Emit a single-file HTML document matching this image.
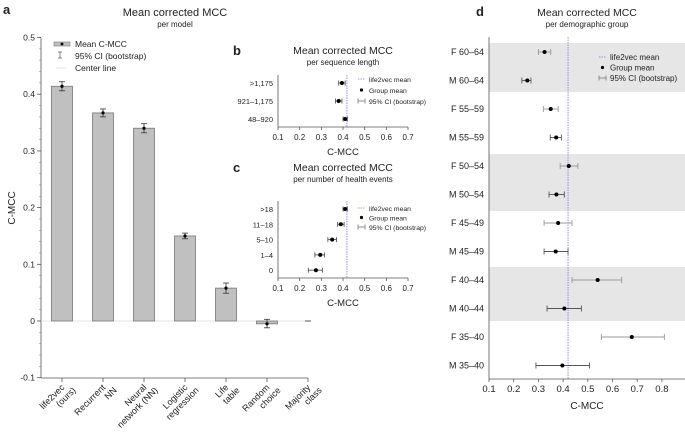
<!DOCTYPE html>
<html><head><meta charset="utf-8">
<style>
body{margin:0;background:#fff;font-family:"Liberation Sans",sans-serif;}
svg{display:block}
text{font-family:"Liberation Sans",sans-serif;fill:#222}
</style></head>
<body>
<svg id="fig" width="685" height="435" viewBox="0 0 685 435"></svg>
<script>
// Panel a data
const aModels = ["life2vec|(ours)","Recurrent|NN","Neural|network (NN)","Logistic|regression","Life|table","Random|choice","Majority|class"];
const aMeans = [0.414,0.367,0.340,0.150,0.058,-0.005,0.0];
const aLo = [0.406,0.360,0.332,0.145,0.049,-0.012,0.0];
const aHi = [0.422,0.374,0.348,0.155,0.067,0.003,0.0];
const aTicks = [-0.1,0,0.1,0.2,0.3,0.4,0.5];
// Panel b data
const bCats = [">1,175","921–1,175","48–920"];
const bMeans = [0.395,0.380,0.410];
const bLo = [0.380,0.365,0.400];
const bHi = [0.410,0.395,0.420];
// Panel c data
const cCats = [">18","11–18","5–10","1–4","0"];
const cMeans = [0.410,0.390,0.350,0.295,0.275];
const cLo = [0.400,0.375,0.330,0.270,0.240];
const cHi = [0.420,0.405,0.370,0.315,0.305];
const bcTicks = [0.1,0.2,0.3,0.4,0.5,0.6,0.7];
const l2vMean = 0.418;
// Panel d data
const dCats = ["F 60–64","M 60–64","F 55–59","M 55–59","F 50–54","M 50–54","F 45–49","M 45–49","F 40–44","M 40–44","F 35–40","M 35–40"];
const dMeans = [0.325,0.255,0.350,0.372,0.423,0.373,0.380,0.370,0.540,0.405,0.678,0.397];
const dLo = [0.300,0.233,0.320,0.348,0.388,0.343,0.323,0.323,0.436,0.335,0.555,0.290];
const dHi = [0.350,0.270,0.380,0.393,0.460,0.405,0.436,0.420,0.637,0.474,0.810,0.507];
const dTicks = [0.1,0.2,0.3,0.4,0.5,0.6,0.7,0.8];
const dMean = 0.42;

const svg=document.getElementById('fig');
const NS="http://www.w3.org/2000/svg";
function el(tag,attrs,parent,txt){const e=document.createElementNS(NS,tag);for(const k in attrs)e.setAttribute(k,attrs[k]);if(txt!==undefined)e.textContent=txt;(parent||svg).appendChild(e);return e;}
function grp(name){const g=el('g',{});return g;}
function T(g,x,y,s,size,anchor,extra){const t=el('text',Object.assign({x:x,y:y,'font-size':size,'text-anchor':anchor||'start'},extra||{}),g,s);return t;}

// ===== Panel a =====
const ga=grp('panel-a');
const ay=v=>321-v*567;
const aX0=41,aX1=308;
const ax=i=>62+i*41;
T(ga,3,14,'a',13,'start',{'font-weight':'bold'});
T(ga,175,16,'Mean corrected MCC',11,'middle');
T(ga,175,27,'per model',8,'middle');
const yt=T(ga,0,0,'C-MCC',10,'middle',{transform:'translate(15,208) rotate(-90)'});

el('line',{x1:aX0,y1:38,x2:aX0,y2:378,stroke:'#555','stroke-width':0.8},ga);
for(let v=-0.1;v<=0.5001;v+=0.02){el('line',{x1:aX0-2,y1:ay(v),x2:aX0,y2:ay(v),stroke:'#777','stroke-width':0.5},ga);}
aTicks.forEach(v=>{el('line',{x1:aX0-4,y1:ay(v),x2:aX0,y2:ay(v),stroke:'#555','stroke-width':0.8},ga);
 const t=T(ga,aX0-6,ay(v)+3,v===0?'0':String(v),8.5,'end');});
el('line',{x1:aX0,y1:378,x2:aX1,y2:378,stroke:'#555','stroke-width':0.8},ga);
el('line',{x1:aX0,y1:ay(0),x2:aX1,y2:ay(0),stroke:'#ddd','stroke-width':0.8},ga);
aMeans.forEach((v,i)=>{
 const x=ax(i);
 el('line',{x1:x,y1:378,x2:x,y2:382,stroke:'#555','stroke-width':0.8},ga);
 if(i<6){
  const r=el('rect',{x:x-10.5,y:Math.min(ay(v),ay(0)),width:21,height:Math.max(Math.abs(ay(v)-ay(0)),1),fill:'#c0c0c0',stroke:'#777','stroke-width':0.8},ga);
  
  el('line',{x1:x,y1:ay(aLo[i]),x2:x,y2:ay(aHi[i]),stroke:'#333','stroke-width':0.8},ga);
  el('line',{x1:x-3,y1:ay(aLo[i]),x2:x+3,y2:ay(aLo[i]),stroke:'#333','stroke-width':0.8},ga);
  el('line',{x1:x-3,y1:ay(aHi[i]),x2:x+3,y2:ay(aHi[i]),stroke:'#333','stroke-width':0.8},ga);
  el('circle',{cx:x,cy:ay(v),r:1.6,fill:'#000'},ga);
 } else {
  el('line',{x1:x-3,y1:ay(v),x2:x+3,y2:ay(v),stroke:'#555','stroke-width':1},ga);
 }
 const parts=aModels[i].split('|');
 const t=el('text',{'font-size':9,'text-anchor':'end',transform:`translate(${x+3},${388}) rotate(-45)`},ga);
 
 el('tspan',{x:0,dy:0},t,parts[0]);
 el('tspan',{x:6,dy:10},t,parts[1]);
});
// legend a
const la=grp('legend-a');ga.appendChild(la);
el('rect',{x:54,y:42,width:16,height:4,fill:'#c0c0c0',stroke:'#777','stroke-width':0.6},la);
el('circle',{cx:62,cy:44,r:1.4,fill:'#000'},la);
T(la,75,47,'Mean C-MCC',8.5);
el('line',{x1:60,y1:52,x2:60,y2:58,stroke:'#555','stroke-width':0.7},la);
el('line',{x1:58,y1:52,x2:62,y2:52,stroke:'#555','stroke-width':0.7},la);
el('line',{x1:58,y1:58,x2:62,y2:58,stroke:'#555','stroke-width':0.7},la);
T(la,75,59,'95% CI (bootstrap)',8.5);
el('line',{x1:56,y1:68,x2:66,y2:68,stroke:'#ddd','stroke-width':0.8},la);
T(la,75,71,'Center line',8.5);

// ===== Forest plot helper =====
function forest(name,cats,means,lo,hi,ticks,xs,x0,x1,yTop,yBot,rowY,meanVal,fs,capH,col){
 const g=grp(name);
 cats.forEach((c,i)=>{const t=T(g,x0-5,rowY(i)+3,c,fs,'end');});
 el('line',{x1:x0,y1:yTop,x2:x0,y2:yBot,stroke:'#555','stroke-width':0.8},g);
 el('line',{x1:x0,y1:yBot,x2:x1,y2:yBot,stroke:'#555','stroke-width':0.8},g);
 ticks.forEach(v=>{el('line',{x1:xs(v),y1:yBot,x2:xs(v),y2:yBot+3,stroke:'#555','stroke-width':0.8},g);
  const t=T(g,xs(v),yBot+13,String(v),fs+0.5,'middle');});
 el('line',{x1:xs(meanVal),y1:yTop,x2:xs(meanVal),y2:yBot,stroke:'#7777ee','stroke-width':0.8,'stroke-dasharray':'1.5,1'},g);
 means.forEach((v,i)=>{
  const y=rowY(i);const c=col?col(i):'#555';
  const pt=grp('point-'+i);g.appendChild(pt);
  el('line',{x1:xs(lo[i]),y1:y,x2:xs(hi[i]),y2:y,stroke:c,'stroke-width':0.9},pt);
  el('line',{x1:xs(lo[i]),y1:y-capH,x2:xs(lo[i]),y2:y+capH,stroke:c,'stroke-width':0.9},pt);
  el('line',{x1:xs(hi[i]),y1:y-capH,x2:xs(hi[i]),y2:y+capH,stroke:c,'stroke-width':0.9},pt);
  el('circle',{cx:xs(v),cy:y,r:2,fill:'#000'},pt);
 });
 return g;
}
function legend(g,x,y,fs,gap){
 const l=grp('legend');g.appendChild(l);
 el('line',{x1:x,y1:y-3,x2:x+7,y2:y-3,stroke:'#7777ee','stroke-width':0.8,'stroke-dasharray':'1.5,1'},l);
 T(l,x+11,y,'life2vec mean',fs);
 el('circle',{cx:x+3.5,cy:y+gap-3,r:1.6,fill:'#000'},l);
 T(l,x+11,y+gap,'Group mean',fs);
 const yy=y+2*gap-3;
 el('line',{x1:x,y1:yy,x2:x+7,y2:yy,stroke:'#777','stroke-width':0.8},l);
 el('line',{x1:x,y1:yy-2.5,x2:x,y2:yy+2.5,stroke:'#777','stroke-width':0.8},l);
 el('line',{x1:x+7,y1:yy-2.5,x2:x+7,y2:yy+2.5,stroke:'#777','stroke-width':0.8},l);
 T(l,x+11,y+2*gap,'95% CI (bootstrap)',fs);
}
const bcx=v=>278+(v-0.1)*216.7;
// Panel b
const gb=forest('panel-b',bCats,bMeans,bLo,bHi,bcTicks,bcx,278,408,75,127,i=>83+i*18,l2vMean,7.5,2.5);
T(gb,233,55,'b',13,'start',{'font-weight':'bold'});
T(gb,343,54,'Mean corrected MCC',10.5,'middle');
T(gb,343,65,'per sequence length',8,'middle');
T(gb,343,155,'C-MCC',9.5,'middle');
legend(gb,358,82,6.8,11);
// Panel c
const gc=forest('panel-c',cCats,cMeans,cLo,cHi,bcTicks,bcx,278,408,201,278,i=>209+i*15.3,l2vMean,7.5,2.5);
T(gc,233,172,'c',13,'start',{'font-weight':'bold'});
T(gc,343,171,'Mean corrected MCC',10.5,'middle');
T(gc,343,182,'per number of health events',8,'middle');
T(gc,343,306,'C-MCC',9.5,'middle');
legend(gc,358,211,6.8,9.5);
// Panel d
const dx=v=>489+(v-0.1)*247;
const dy=i=>52+i*28.5;
const gdb=grp('bands');
[[43,92],[154,211],[267,321]].forEach(b=>el('rect',{x:489,y:b[0],width:196,height:b[1]-b[0],fill:'#e6e6e6'},gdb));
const gd=forest('panel-d',dCats,dMeans,dLo,dHi,dTicks,dx,489,685,37,379,dy,dMean,9,3,i=>(i%2===0?'#999':'#555'));
T(gd,476,16,'d',13,'start',{'font-weight':'bold'});
T(gd,587,16,'Mean corrected MCC',10.5,'middle');
T(gd,587,27,'per demographic group',8,'middle');
T(gd,587,409,'C-MCC',10,'middle');
legend(gd,599,60,8,10.5);
</script>
</body></html>
